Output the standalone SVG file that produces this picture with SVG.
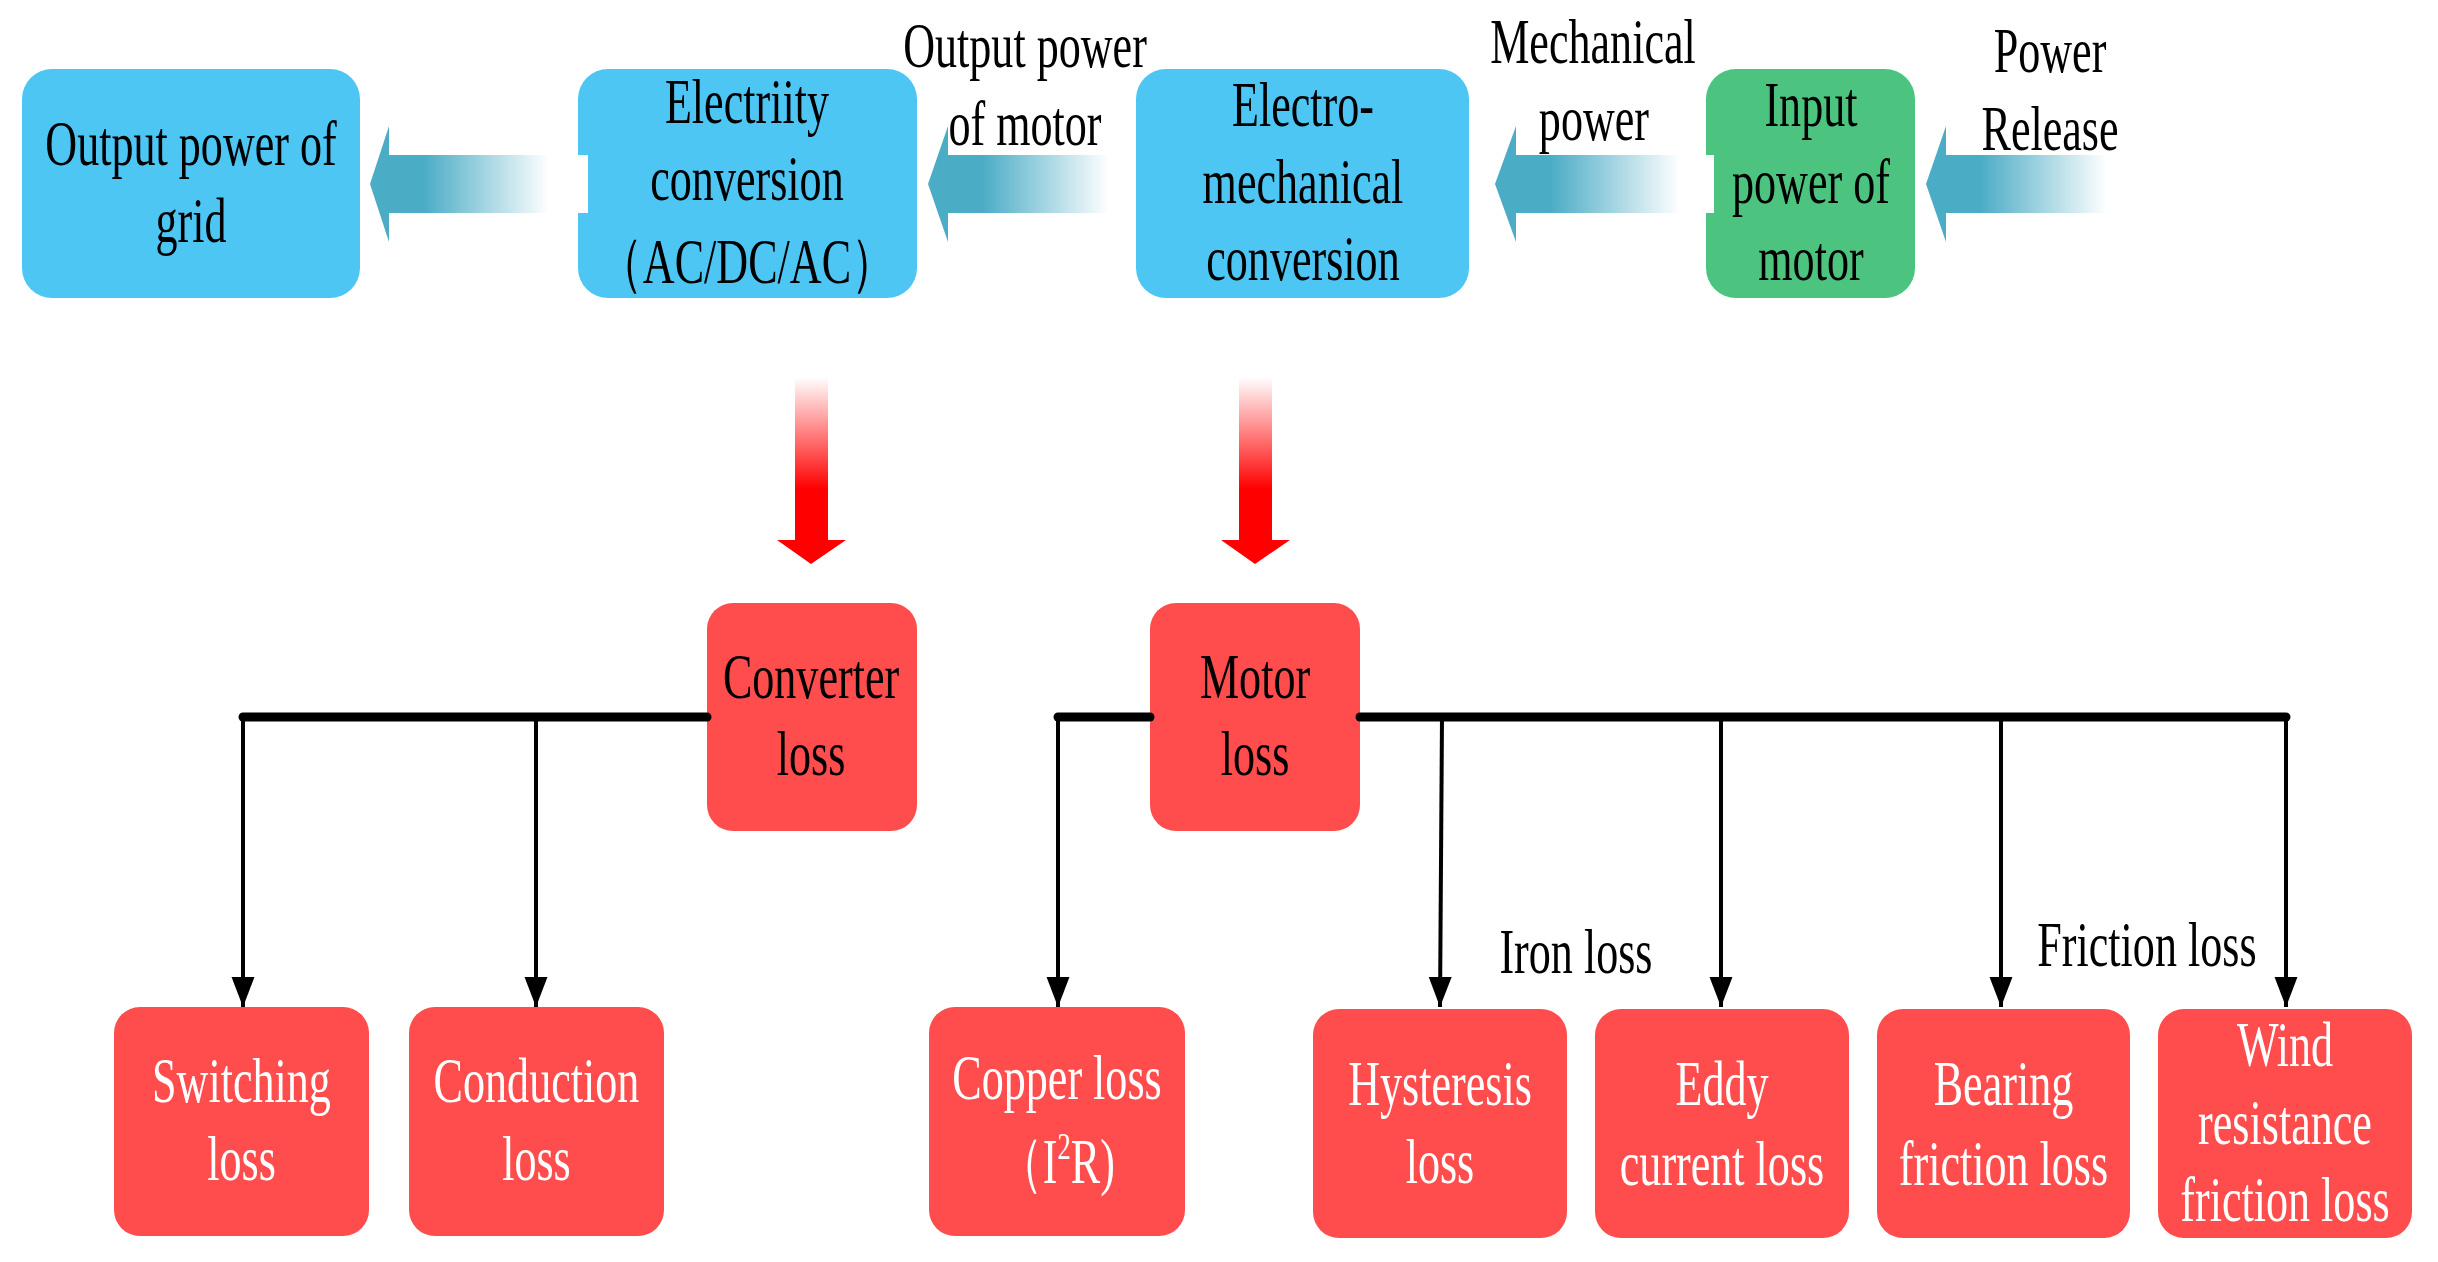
<svg xmlns="http://www.w3.org/2000/svg" width="2438" height="1262" viewBox="0 0 2438 1262">
<defs>
<linearGradient id="bg" x1="0" y1="0" x2="1" y2="0"><stop offset="0" stop-color="#4BACC6"/><stop offset="0.3" stop-color="#4BACC6"/><stop offset="1" stop-color="#4BACC6" stop-opacity="0"/></linearGradient>
<linearGradient id="rg" x1="0" y1="0" x2="0" y2="1"><stop offset="0" stop-color="#FF0000" stop-opacity="0"/><stop offset="0.6" stop-color="#FF0000"/><stop offset="1" stop-color="#FF0000"/></linearGradient>
<marker id="ah" markerUnits="userSpaceOnUse" markerWidth="30" markerHeight="40" refX="34" refY="13" orient="auto" viewBox="0 0 34 26"><path d="M0,0 L34,13 L0,26 Z" fill="#000"/></marker>
<style>
.t{font-family:"Liberation Serif","Times New Roman",serif;font-size:63px;text-anchor:middle;fill:#000}
.w{fill:#fff}
.blue{fill:#4DC6F4}.green{fill:#4CC47F}.red{fill:#FF4C4C}
.bar{stroke:#000;stroke-width:9;fill:none;stroke-linecap:round}
.br{stroke:#000;stroke-width:4;fill:none}
</style>
</defs>
<g id="flow-arrows">
<polygon fill="url(#bg)" points="370,184 389,126 389,155 549,155 549,213 389,213 389,242"/>
<polygon fill="url(#bg)" points="928,184 948,126 948,155 1109,155 1109,213 948,213 948,242"/>
<polygon fill="url(#bg)" points="1495,184 1516,126 1516,155 1680,155 1680,213 1516,213 1516,242"/>
<polygon fill="url(#bg)" points="1926,184 1946,126 1946,155 2107,155 2107,213 1946,213 1946,242"/>
<polygon fill="url(#rg)" points="795,377 828,377 828,540 846,540 811,564 777,540 795,540"/>
<polygon fill="url(#rg)" points="1239,377 1272,377 1272,540 1290,540 1255,564 1221,540 1239,540"/>
</g>
<g id="n-grid"><rect class="blue" x="22" y="69" width="338" height="229" rx="30"/></g>
<g id="n-elec"><rect class="blue" x="578" y="69" width="339" height="229" rx="30"/><rect fill="#fff" x="578" y="155" width="10" height="58"/></g>
<g id="n-em"><rect class="blue" x="1136" y="69" width="333" height="229" rx="30"/></g>
<g id="n-input"><rect class="green" x="1706" y="69" width="209" height="229" rx="30"/><rect fill="#fff" x="1706" y="155" width="8" height="58"/></g>
<g id="n-conv"><rect class="red" x="707" y="603" width="210" height="228" rx="26"/></g>
<g id="n-motor"><rect class="red" x="1150" y="603" width="210" height="228" rx="26"/></g>
<g id="n-sw"><rect class="red" x="114" y="1007" width="255" height="229" rx="26"/></g>
<g id="n-cond"><rect class="red" x="409" y="1007" width="255" height="229" rx="26"/></g>
<g id="n-cu"><rect class="red" x="929" y="1007" width="256" height="229" rx="26"/></g>
<g id="n-hy"><rect class="red" x="1313" y="1009" width="254" height="229" rx="26"/></g>
<g id="n-ed"><rect class="red" x="1595" y="1009" width="254" height="229" rx="26"/></g>
<g id="n-be"><rect class="red" x="1877" y="1009" width="253" height="229" rx="26"/></g>
<g id="n-wi"><rect class="red" x="2158" y="1009" width="254" height="229" rx="26"/></g>
<g id="connectors">
<polyline class="bar" points="707,717 243,717"/>
<line class="br" x1="243" y1="717" x2="243" y2="1007" marker-end="url(#ah)"/>
<line class="br" x1="536" y1="717" x2="536" y2="1007" marker-end="url(#ah)"/>
<polyline class="bar" points="1150,717 1058,717"/>
<line class="br" x1="1058" y1="717" x2="1058" y2="1007" marker-end="url(#ah)"/>
<polyline class="bar" points="1360,717 2286,717"/>
<line class="br" x1="1442" y1="717" x2="1440" y2="1007" marker-end="url(#ah)"/>
<line class="br" x1="1721" y1="717" x2="1721" y2="1007" marker-end="url(#ah)"/>
<line class="br" x1="2001" y1="717" x2="2001" y2="1007" marker-end="url(#ah)"/>
<line class="br" x1="2286" y1="717" x2="2286" y2="1007" marker-end="url(#ah)"/>
</g>
<g id="labels" transform="scale(0.7,1)">
<text class="t" x="272.9" y="165">Output power of</text>
<text class="t" x="272.9" y="242">grid</text>
<text class="t" x="1067.1" y="123">Electriity</text>
<text class="t" x="1067.1" y="200">conversion</text>
<text class="t" x="1067.1" y="283">（AC/DC/AC）</text>
<text class="t" x="1464.3" y="67">Output power</text>
<text class="t" x="1464.3" y="145">of motor</text>
<text class="t" x="1861.4" y="126">Electro-</text>
<text class="t" x="1861.4" y="203">mechanical</text>
<text class="t" x="1861.4" y="280">conversion</text>
<text class="t" x="2275.7" y="63">Mechanical</text>
<text class="t" x="2277.1" y="140">power</text>
<text class="t" x="2587.1" y="126">Input</text>
<text class="t" x="2587.1" y="203">power of</text>
<text class="t" x="2587.1" y="280">motor</text>
<text class="t" x="2928.6" y="72">Power</text>
<text class="t" x="2928.6" y="150">Release</text>
<text class="t" x="1158.6" y="698">Converter</text>
<text class="t" x="1158.6" y="775">loss</text>
<text class="t" x="1792.9" y="698">Motor</text>
<text class="t" x="1792.9" y="775">loss</text>
<text class="t" x="2251.4" y="973">Iron loss</text>
<text class="t" x="3067.1" y="966">Friction loss</text>
<text class="t w" x="345" y="1102">Switching</text>
<text class="t w" x="345" y="1180">loss</text>
<text class="t w" x="766.4" y="1102">Conduction</text>
<text class="t w" x="766.4" y="1180">loss</text>
<text class="t w" x="1510" y="1099">Copper loss</text>
<text class="t w" x="1510" y="1183">（I<tspan font-size="38" dy="-24">2</tspan><tspan dy="24">R)</tspan></text>
<text class="t w" x="2057.1" y="1105">Hysteresis</text>
<text class="t w" x="2057.1" y="1183">loss</text>
<text class="t w" x="2460" y="1105">Eddy</text>
<text class="t w" x="2460" y="1185">current loss</text>
<text class="t w" x="2862.1" y="1105">Bearing</text>
<text class="t w" x="2862.1" y="1185">friction loss</text>
<text class="t w" x="3264.3" y="1066">Wind</text>
<text class="t w" x="3264.3" y="1144">resistance</text>
<text class="t w" x="3264.3" y="1221">friction loss</text>
</g>
</svg>
